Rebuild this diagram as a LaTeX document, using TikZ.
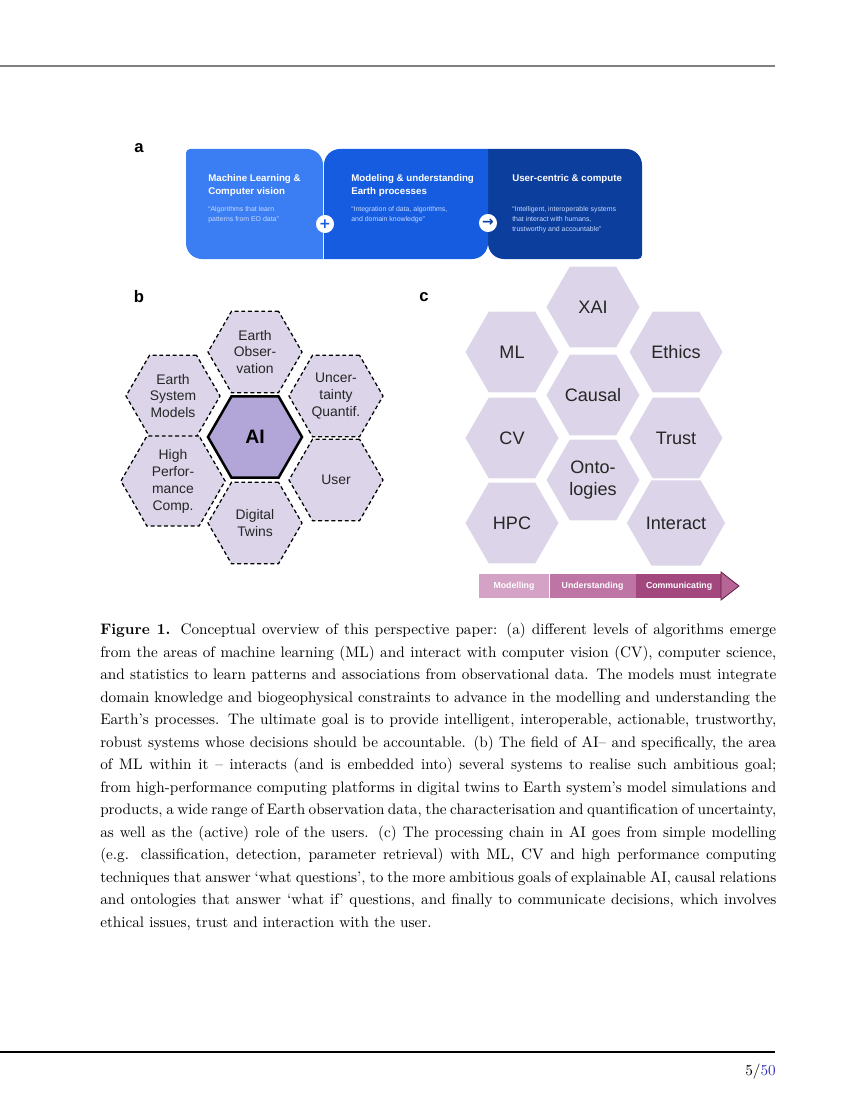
\documentclass[tikz,border=0pt]{standalone}
\usepackage{fontspec}
\newfontfamily\figfont{Liberation Sans}
\newfontfamily\symfont{DejaVu Sans}
\usetikzlibrary{shapes.geometric, positioning}

\definecolor{boxone}{RGB}{59,125,242}
\definecolor{boxtwo}{RGB}{22,92,224}
\definecolor{boxthree}{RGB}{12,62,158}
\definecolor{quotecol}{RGB}{200,218,255}
\definecolor{hexlight}{RGB}{220,213,234}
\definecolor{hexdark}{RGB}{178,166,217}
\definecolor{hexc}{RGB}{220,212,232}
\definecolor{modcol}{RGB}{212,162,196}
\definecolor{undcol}{RGB}{190,116,164}
\definecolor{comcol}{RGB}{162,72,126}
\definecolor{tipcol}{RGB}{182,102,150}
\definecolor{tipline}{RGB}{100,30,70}
\definecolor{pagenum}{RGB}{50,50,190}

\begin{document}
\begin{tikzpicture}[x=0.72pt, y=-0.72pt]
% Define the node styles
\tikzstyle{panellabel} = [inner sep=0pt, font=\figfont\bfseries\fontsize{12}{14}\selectfont]
\tikzstyle{boxtitle} = [anchor=north west, inner sep=0pt, align=left, text=white, font=\figfont\bfseries\fontsize{7}{9.4}\selectfont]
\tikzstyle{boxquote} = [anchor=north west, inner sep=0pt, align=left, text=quotecol, font=\figfont\fontsize{5}{7.4}\selectfont]
\tikzstyle{signdot} = [circle, fill=white, inner sep=0pt, minimum size=13pt, font=\symfont\bfseries\fontsize{10}{10}\selectfont]
\tikzstyle{hex} = [regular polygon, regular polygon sides=6, minimum size=67.7pt, inner sep=0pt, align=center, text=black!85, font=\figfont\fontsize{10}{12.2}\selectfont]
\tikzstyle{ringhex} = [hex, draw, fill=hexlight, line width=0.9pt, dash pattern=on 2.8pt off 2pt]
\tikzstyle{corehex} = [hex, draw, fill=hexdark, line width=1.8pt, text=black, font=\figfont\bfseries\fontsize{14}{16}\selectfont]
\tikzstyle{tilehex} = [hex, fill=hexc, minimum size=67pt, font=\figfont\fontsize{13}{15.6}\selectfont]
\tikzstyle{barseg} = [rectangle, inner sep=0pt, minimum height=17.3pt, text=white, font=\figfont\bfseries\fontsize{6.3}{7}\selectfont]

\useasboundingbox (0,0) rectangle (850,1100);

% Page rules
\coordinate (headl) at (0,66);
\coordinate (headr) at (775,66);
\coordinate (footl) at (0,1052);
\coordinate (footr) at (775,1052);
\draw[black!50, line width=0.8pt] (headl) -- (headr);
\draw[black, line width=1.8pt] (footl) -- (footr);

% Panel labels
\node[panellabel] (la) at (139,148) {a};
\node[panellabel] (lb) at (139,297) {b};
\node[panellabel] (lc) at (424,297) {c};

% (a) the three stages
\fill[boxthree] (488,149) -- (626,149) arc[start angle=270, end angle=360, radius=16]
  -- (642,255) arc[start angle=0, end angle=90, radius=4]
  -- (504,259) arc[start angle=90, end angle=180, radius=16] -- cycle;
\fill[boxtwo] (324,165) arc[start angle=180, end angle=270, radius=16]
  -- (488,149) -- (488,243) arc[start angle=0, end angle=90, radius=16]
  -- (324,259) -- cycle;
\fill[boxone] (186,153) arc[start angle=180, end angle=270, radius=4]
  -- (307,149) arc[start angle=270, end angle=360, radius=16]
  -- (323,259) -- (202,259) arc[start angle=90, end angle=180, radius=16] -- cycle;

\node[boxtitle] (t1) at (208,174.5) {Machine Learning \&\\Computer vision};
\node[boxquote] (q1) at (208,206) {“Algorithms that learn\\patterns from EO data”};
\node[boxtitle] (t2) at (351,174.5) {Modeling \& understanding\\Earth processes};
\node[boxquote] (q2) at (351,206) {“Integration of data, algorithms,\\and domain knowledge”};
\node[boxtitle] (t3) at (512,174.5) {User-centric \& compute};
\node[boxquote] (q3) at (512,206) {“Intelligent, interoperable systems\\that interact with humans,\\trustworthy and accountable”};

\node[signdot, text=boxtwo] (plus) at (325,224) {+};
\node[signdot, text=boxthree] (then) at (488,223) {→};

% (b) AI and the systems round it
\node[corehex] (ai) at (255,437) {AI};
\node[ringhex] (eo) at (255,352) {Earth\\Obser-\\vation};
\node[ringhex] (esm) at (173,396) {Earth\\System\\Models};
\node[ringhex] (uq) at (336,396) {Uncer-\\tainty\\Quantif.};
\node[ringhex] (hpc) at (173,481) {High\\Perfor-\\mance\\Comp.};
\node[ringhex] (user) at (336,480) {User};
\node[ringhex] (dt) at (255,523) {Digital\\Twins};

% (c) the processing chain
\node[tilehex] (xai) at (593,307) {XAI};
\node[tilehex] (ml) at (512,352) {ML};
\node[tilehex] (ethics) at (676,352) {Ethics};
\node[tilehex] (causal) at (593,395) {Causal};
\node[tilehex] (cv) at (512,438) {CV};
\node[tilehex] (trust) at (676,438) {Trust};
\node[tilehex] (onto) at (593,480) {Onto-\\logies};
\node[tilehex] (hpcc) at (512,523) {HPC};
\node[tilehex] (interact) at (676,523) {Interact};

\node[barseg, fill=modcol, minimum width=50.4pt] (modl) at (514,586) {Modelling};
\node[barseg, fill=undcol, minimum width=61.9pt, right=0pt of modl] (undr) {Understanding};
\node[barseg, fill=comcol, minimum width=61.9pt, right=0pt of undr] (comm) {Communicating};
\coordinate (tiptop) at (721,572);
\coordinate (tipend) at (739,586);
\coordinate (tipbot) at (721,600);
\filldraw[fill=tipcol, draw=tipline, line width=0.6pt] (tiptop) -- (tipend) -- (tipbot) -- cycle;

% Caption
\node[anchor=north west, inner sep=0pt, text width=486.7pt, align=justify,
  font=\fontsize{10.95}{16.2}\selectfont] (caption) at (100,623) {\hyphenpenalty=10000\tolerance=10000
\textbf{Figure 1.} Conceptual overview of this perspective paper: (a) different levels of algorithms emerge\linebreak
from the areas of machine learning (ML) and interact with computer vision (CV), computer science,\linebreak
and statistics to learn patterns and associations from observational data. The models must integrate\linebreak
domain knowledge and biogeophysical constraints to advance in the modelling and understanding the\linebreak
Earth's processes. The ultimate goal is to provide intelligent, interoperable, actionable, trustworthy,\linebreak
robust systems whose decisions should be accountable. (b) The field of AI-- and specifically, the area\linebreak
of ML within it -- interacts (and is embedded into) several systems to realise such ambitious goal;\linebreak
from high-performance computing platforms in digital twins to Earth system's model simulations and\linebreak
products, a wide range of Earth observation data, the characterisation and quantification of uncertainty,\linebreak
as well as the (active) role of the users. (c) The processing chain in AI goes from simple modelling\linebreak
(e.g. classification, detection, parameter retrieval) with ML, CV and high performance computing\linebreak
techniques that answer `what questions', to the more ambitious goals of explainable AI, causal relations\linebreak
and ontologies that answer `what if' questions, and finally to communicate decisions, which involves\linebreak
ethical issues, trust and interaction with the user.\par};

% Page number
\node[anchor=base east, inner sep=0pt, font=\fontsize{10.95}{13}\selectfont] (page) at (776,1075) {5/\textcolor{pagenum}{50}};
\end{tikzpicture}
\end{document}
